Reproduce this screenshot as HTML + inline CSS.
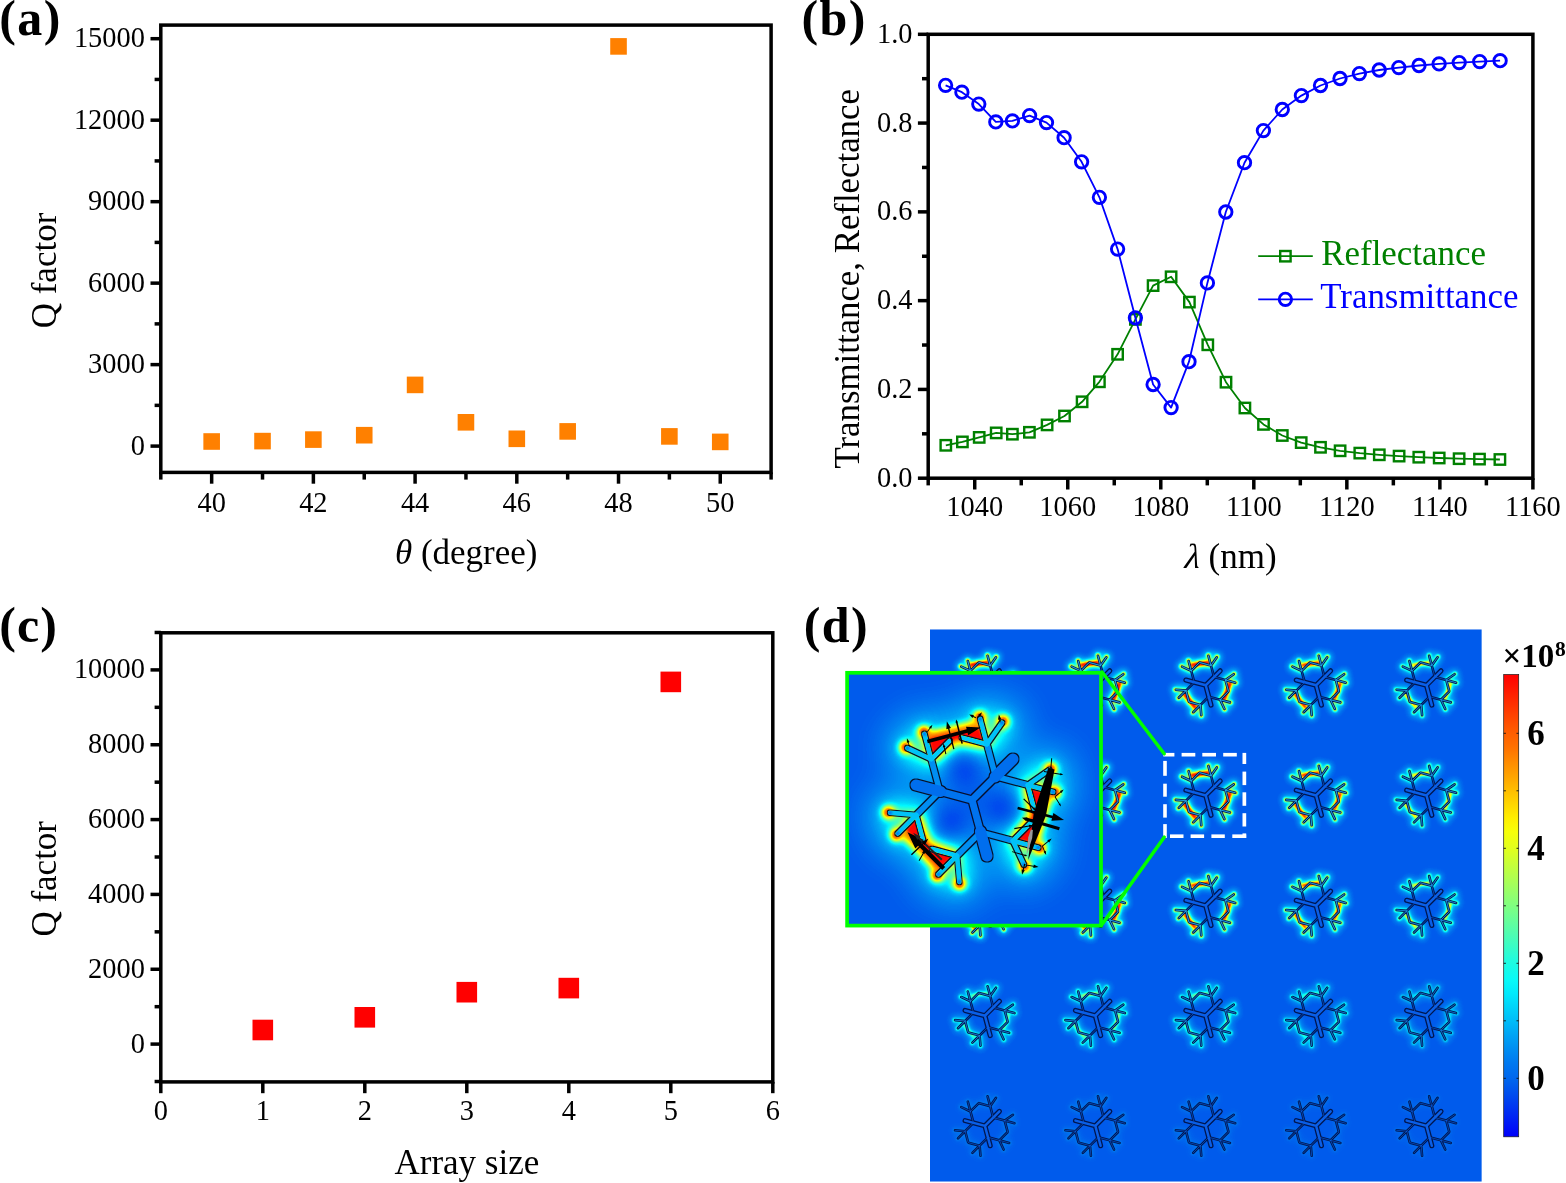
<!DOCTYPE html>
<html lang="en">
<head>
<meta charset="utf-8">
<title>Q factor, transmittance and field distribution</title>
<style>
html, body { margin: 0; padding: 0; background: #fff; }
body { width: 1566px; height: 1183px; overflow: hidden; }
svg { display: block; font-family: "Liberation Serif", serif; }
text { white-space: pre; }
</style>
</head>
<body>
<svg width="1566" height="1183" viewBox="0 0 1566 1183">
<rect x="0" y="0" width="1566" height="1183" fill="#fff"/>
<g id="panel-a">
<rect x="160.8" y="25.1" width="610.3" height="447.3" fill="none" stroke="#000" stroke-width="3.5"/>
<line x1="160.8" y1="472.4" x2="160.8" y2="479.6" stroke="#000" stroke-width="3.5" />
<line x1="211.66" y1="472.4" x2="211.66" y2="483.7" stroke="#000" stroke-width="3.5" />
<text x="211.66" y="512" font-size="28.4" text-anchor="middle" font-weight="normal" font-style="normal" fill="#000" >40</text>
<line x1="262.52" y1="472.4" x2="262.52" y2="479.6" stroke="#000" stroke-width="3.5" />
<line x1="313.38" y1="472.4" x2="313.38" y2="483.7" stroke="#000" stroke-width="3.5" />
<text x="313.38" y="512" font-size="28.4" text-anchor="middle" font-weight="normal" font-style="normal" fill="#000" >42</text>
<line x1="364.23" y1="472.4" x2="364.23" y2="479.6" stroke="#000" stroke-width="3.5" />
<line x1="415.09" y1="472.4" x2="415.09" y2="483.7" stroke="#000" stroke-width="3.5" />
<text x="415.09" y="512" font-size="28.4" text-anchor="middle" font-weight="normal" font-style="normal" fill="#000" >44</text>
<line x1="465.95" y1="472.4" x2="465.95" y2="479.6" stroke="#000" stroke-width="3.5" />
<line x1="516.81" y1="472.4" x2="516.81" y2="483.7" stroke="#000" stroke-width="3.5" />
<text x="516.81" y="512" font-size="28.4" text-anchor="middle" font-weight="normal" font-style="normal" fill="#000" >46</text>
<line x1="567.67" y1="472.4" x2="567.67" y2="479.6" stroke="#000" stroke-width="3.5" />
<line x1="618.52" y1="472.4" x2="618.52" y2="483.7" stroke="#000" stroke-width="3.5" />
<text x="618.52" y="512" font-size="28.4" text-anchor="middle" font-weight="normal" font-style="normal" fill="#000" >48</text>
<line x1="669.38" y1="472.4" x2="669.38" y2="479.6" stroke="#000" stroke-width="3.5" />
<line x1="720.24" y1="472.4" x2="720.24" y2="483.7" stroke="#000" stroke-width="3.5" />
<text x="720.24" y="512" font-size="28.4" text-anchor="middle" font-weight="normal" font-style="normal" fill="#000" >50</text>
<line x1="771.1" y1="472.4" x2="771.1" y2="479.6" stroke="#000" stroke-width="3.5" />
<line x1="150.5" y1="446.1" x2="160.8" y2="446.1" stroke="#000" stroke-width="3.5" />
<text x="144.9" y="454.5" font-size="28.4" text-anchor="end" font-weight="normal" font-style="normal" fill="#000" >0</text>
<line x1="154.6" y1="405.36" x2="160.8" y2="405.36" stroke="#000" stroke-width="3.5" />
<line x1="150.5" y1="364.62" x2="160.8" y2="364.62" stroke="#000" stroke-width="3.5" />
<text x="144.9" y="373.02" font-size="28.4" text-anchor="end" font-weight="normal" font-style="normal" fill="#000" >3000</text>
<line x1="154.6" y1="323.88" x2="160.8" y2="323.88" stroke="#000" stroke-width="3.5" />
<line x1="150.5" y1="283.14" x2="160.8" y2="283.14" stroke="#000" stroke-width="3.5" />
<text x="144.9" y="291.54" font-size="28.4" text-anchor="end" font-weight="normal" font-style="normal" fill="#000" >6000</text>
<line x1="154.6" y1="242.4" x2="160.8" y2="242.4" stroke="#000" stroke-width="3.5" />
<line x1="150.5" y1="201.66" x2="160.8" y2="201.66" stroke="#000" stroke-width="3.5" />
<text x="144.9" y="210.06" font-size="28.4" text-anchor="end" font-weight="normal" font-style="normal" fill="#000" >9000</text>
<line x1="154.6" y1="160.92" x2="160.8" y2="160.92" stroke="#000" stroke-width="3.5" />
<line x1="150.5" y1="120.18" x2="160.8" y2="120.18" stroke="#000" stroke-width="3.5" />
<text x="144.9" y="128.58" font-size="28.4" text-anchor="end" font-weight="normal" font-style="normal" fill="#000" >12000</text>
<line x1="154.6" y1="79.44" x2="160.8" y2="79.44" stroke="#000" stroke-width="3.5" />
<line x1="150.5" y1="38.7" x2="160.8" y2="38.7" stroke="#000" stroke-width="3.5" />
<text x="144.9" y="47.1" font-size="28.4" text-anchor="end" font-weight="normal" font-style="normal" fill="#000" >15000</text>
<rect x="203.36" y="433.2" width="16.6" height="16.6" fill="#ff8000"/>
<rect x="254.22" y="432.8" width="16.6" height="16.6" fill="#ff8000"/>
<rect x="305.07" y="431.3" width="16.6" height="16.6" fill="#ff8000"/>
<rect x="355.93" y="426.9" width="16.6" height="16.6" fill="#ff8000"/>
<rect x="406.79" y="376.6" width="16.6" height="16.6" fill="#ff8000"/>
<rect x="457.65" y="414" width="16.6" height="16.6" fill="#ff8000"/>
<rect x="508.51" y="430.5" width="16.6" height="16.6" fill="#ff8000"/>
<rect x="559.37" y="423.1" width="16.6" height="16.6" fill="#ff8000"/>
<rect x="610.23" y="38.1" width="16.6" height="16.6" fill="#ff8000"/>
<rect x="661.08" y="428.1" width="16.6" height="16.6" fill="#ff8000"/>
<rect x="711.94" y="433.6" width="16.6" height="16.6" fill="#ff8000"/>
<text x="-0.7" y="35.3" font-size="50" text-anchor="start" font-weight="bold" font-style="normal" fill="#000" letter-spacing="1.4">(a)</text>
<text transform="translate(56.3,270.5) rotate(-90)" font-size="35" text-anchor="middle">Q factor</text>
<text x="466.2" y="563.8" font-size="35" text-anchor="middle"><tspan font-style="italic">θ</tspan> (degree)</text>
</g>
<g id="panel-b">
<rect x="928.2" y="34.3" width="604.7" height="443.9" fill="none" stroke="#000" stroke-width="3.5"/>
<line x1="928.2" y1="478.2" x2="928.2" y2="485.4" stroke="#000" stroke-width="3.5" />
<line x1="974.72" y1="478.2" x2="974.72" y2="489.5" stroke="#000" stroke-width="3.5" />
<text x="974.72" y="516.3" font-size="28.4" text-anchor="middle" font-weight="normal" font-style="normal" fill="#000" >1040</text>
<line x1="1021.23" y1="478.2" x2="1021.23" y2="485.4" stroke="#000" stroke-width="3.5" />
<line x1="1067.75" y1="478.2" x2="1067.75" y2="489.5" stroke="#000" stroke-width="3.5" />
<text x="1067.75" y="516.3" font-size="28.4" text-anchor="middle" font-weight="normal" font-style="normal" fill="#000" >1060</text>
<line x1="1114.26" y1="478.2" x2="1114.26" y2="485.4" stroke="#000" stroke-width="3.5" />
<line x1="1160.78" y1="478.2" x2="1160.78" y2="489.5" stroke="#000" stroke-width="3.5" />
<text x="1160.78" y="516.3" font-size="28.4" text-anchor="middle" font-weight="normal" font-style="normal" fill="#000" >1080</text>
<line x1="1207.29" y1="478.2" x2="1207.29" y2="485.4" stroke="#000" stroke-width="3.5" />
<line x1="1253.81" y1="478.2" x2="1253.81" y2="489.5" stroke="#000" stroke-width="3.5" />
<text x="1253.81" y="516.3" font-size="28.4" text-anchor="middle" font-weight="normal" font-style="normal" fill="#000" >1100</text>
<line x1="1300.32" y1="478.2" x2="1300.32" y2="485.4" stroke="#000" stroke-width="3.5" />
<line x1="1346.84" y1="478.2" x2="1346.84" y2="489.5" stroke="#000" stroke-width="3.5" />
<text x="1346.84" y="516.3" font-size="28.4" text-anchor="middle" font-weight="normal" font-style="normal" fill="#000" >1120</text>
<line x1="1393.35" y1="478.2" x2="1393.35" y2="485.4" stroke="#000" stroke-width="3.5" />
<line x1="1439.87" y1="478.2" x2="1439.87" y2="489.5" stroke="#000" stroke-width="3.5" />
<text x="1439.87" y="516.3" font-size="28.4" text-anchor="middle" font-weight="normal" font-style="normal" fill="#000" >1140</text>
<line x1="1486.38" y1="478.2" x2="1486.38" y2="485.4" stroke="#000" stroke-width="3.5" />
<line x1="1532.9" y1="478.2" x2="1532.9" y2="489.5" stroke="#000" stroke-width="3.5" />
<text x="1532.9" y="516.3" font-size="28.4" text-anchor="middle" font-weight="normal" font-style="normal" fill="#000" >1160</text>
<line x1="917.9" y1="478.2" x2="928.2" y2="478.2" stroke="#000" stroke-width="3.5" />
<text x="912.5" y="486.7" font-size="28.4" text-anchor="end" font-weight="normal" font-style="normal" fill="#000" >0.0</text>
<line x1="922" y1="433.81" x2="928.2" y2="433.81" stroke="#000" stroke-width="3.5" />
<line x1="917.9" y1="389.42" x2="928.2" y2="389.42" stroke="#000" stroke-width="3.5" />
<text x="912.5" y="397.92" font-size="28.4" text-anchor="end" font-weight="normal" font-style="normal" fill="#000" >0.2</text>
<line x1="922" y1="345.03" x2="928.2" y2="345.03" stroke="#000" stroke-width="3.5" />
<line x1="917.9" y1="300.64" x2="928.2" y2="300.64" stroke="#000" stroke-width="3.5" />
<text x="912.5" y="309.14" font-size="28.4" text-anchor="end" font-weight="normal" font-style="normal" fill="#000" >0.4</text>
<line x1="922" y1="256.25" x2="928.2" y2="256.25" stroke="#000" stroke-width="3.5" />
<line x1="917.9" y1="211.86" x2="928.2" y2="211.86" stroke="#000" stroke-width="3.5" />
<text x="912.5" y="220.36" font-size="28.4" text-anchor="end" font-weight="normal" font-style="normal" fill="#000" >0.6</text>
<line x1="922" y1="167.47" x2="928.2" y2="167.47" stroke="#000" stroke-width="3.5" />
<line x1="917.9" y1="123.08" x2="928.2" y2="123.08" stroke="#000" stroke-width="3.5" />
<text x="912.5" y="131.58" font-size="28.4" text-anchor="end" font-weight="normal" font-style="normal" fill="#000" >0.8</text>
<line x1="922" y1="78.69" x2="928.2" y2="78.69" stroke="#000" stroke-width="3.5" />
<line x1="917.9" y1="34.3" x2="928.2" y2="34.3" stroke="#000" stroke-width="3.5" />
<text x="912.5" y="42.8" font-size="28.4" text-anchor="end" font-weight="normal" font-style="normal" fill="#000" >1.0</text>
<polyline points="945.8,445.3 962.4,441.9 979.2,437.4 996.2,432.9 1012.4,434.2 1029.4,432.3 1047.1,424.9 1064.5,416 1082.1,401.8 1099.4,381.8 1117.6,354.3 1135.4,319.4 1153.1,285.6 1171.1,276.8 1189.4,302.1 1207.8,344.8 1226,382.2 1244.9,408 1263.5,424.4 1282.3,435.5 1301.2,442.6 1320.5,447.3 1340.1,450.8 1359.8,453.1 1379.3,454.8 1399.1,456.1 1418.8,457.2 1439.2,458 1459.1,458.7 1479.5,459.1 1499.9,459.5" fill="none" stroke="#008000" stroke-width="1.8" stroke-linejoin="round"/>
<rect x="940.6" y="440.1" width="10.4" height="10.4" fill="none" stroke="#008000" stroke-width="2.4"/>
<rect x="957.2" y="436.7" width="10.4" height="10.4" fill="none" stroke="#008000" stroke-width="2.4"/>
<rect x="974" y="432.2" width="10.4" height="10.4" fill="none" stroke="#008000" stroke-width="2.4"/>
<rect x="991" y="427.7" width="10.4" height="10.4" fill="none" stroke="#008000" stroke-width="2.4"/>
<rect x="1007.2" y="429" width="10.4" height="10.4" fill="none" stroke="#008000" stroke-width="2.4"/>
<rect x="1024.2" y="427.1" width="10.4" height="10.4" fill="none" stroke="#008000" stroke-width="2.4"/>
<rect x="1041.9" y="419.7" width="10.4" height="10.4" fill="none" stroke="#008000" stroke-width="2.4"/>
<rect x="1059.3" y="410.8" width="10.4" height="10.4" fill="none" stroke="#008000" stroke-width="2.4"/>
<rect x="1076.9" y="396.6" width="10.4" height="10.4" fill="none" stroke="#008000" stroke-width="2.4"/>
<rect x="1094.2" y="376.6" width="10.4" height="10.4" fill="none" stroke="#008000" stroke-width="2.4"/>
<rect x="1112.4" y="349.1" width="10.4" height="10.4" fill="none" stroke="#008000" stroke-width="2.4"/>
<rect x="1130.2" y="314.2" width="10.4" height="10.4" fill="none" stroke="#008000" stroke-width="2.4"/>
<rect x="1147.9" y="280.4" width="10.4" height="10.4" fill="none" stroke="#008000" stroke-width="2.4"/>
<rect x="1165.9" y="271.6" width="10.4" height="10.4" fill="none" stroke="#008000" stroke-width="2.4"/>
<rect x="1184.2" y="296.9" width="10.4" height="10.4" fill="none" stroke="#008000" stroke-width="2.4"/>
<rect x="1202.6" y="339.6" width="10.4" height="10.4" fill="none" stroke="#008000" stroke-width="2.4"/>
<rect x="1220.8" y="377" width="10.4" height="10.4" fill="none" stroke="#008000" stroke-width="2.4"/>
<rect x="1239.7" y="402.8" width="10.4" height="10.4" fill="none" stroke="#008000" stroke-width="2.4"/>
<rect x="1258.3" y="419.2" width="10.4" height="10.4" fill="none" stroke="#008000" stroke-width="2.4"/>
<rect x="1277.1" y="430.3" width="10.4" height="10.4" fill="none" stroke="#008000" stroke-width="2.4"/>
<rect x="1296" y="437.4" width="10.4" height="10.4" fill="none" stroke="#008000" stroke-width="2.4"/>
<rect x="1315.3" y="442.1" width="10.4" height="10.4" fill="none" stroke="#008000" stroke-width="2.4"/>
<rect x="1334.9" y="445.6" width="10.4" height="10.4" fill="none" stroke="#008000" stroke-width="2.4"/>
<rect x="1354.6" y="447.9" width="10.4" height="10.4" fill="none" stroke="#008000" stroke-width="2.4"/>
<rect x="1374.1" y="449.6" width="10.4" height="10.4" fill="none" stroke="#008000" stroke-width="2.4"/>
<rect x="1393.9" y="450.9" width="10.4" height="10.4" fill="none" stroke="#008000" stroke-width="2.4"/>
<rect x="1413.6" y="452" width="10.4" height="10.4" fill="none" stroke="#008000" stroke-width="2.4"/>
<rect x="1434" y="452.8" width="10.4" height="10.4" fill="none" stroke="#008000" stroke-width="2.4"/>
<rect x="1453.9" y="453.5" width="10.4" height="10.4" fill="none" stroke="#008000" stroke-width="2.4"/>
<rect x="1474.3" y="453.9" width="10.4" height="10.4" fill="none" stroke="#008000" stroke-width="2.4"/>
<rect x="1494.7" y="454.3" width="10.4" height="10.4" fill="none" stroke="#008000" stroke-width="2.4"/>
<polyline points="945.6,85.3 961.9,92.2 978.8,104.1 995.8,121.9 1012.4,120.9 1029.6,115.6 1046.5,122.6 1064.1,137.7 1081.6,161.8 1099.4,197.3 1117.6,249.1 1135.4,317.8 1153.1,384.5 1171.1,407.6 1189,361.7 1207.4,282.9 1225.8,212 1244.5,162.7 1263.4,130.6 1282.3,109.5 1301.4,95.6 1320.5,85.5 1340,78.5 1359.4,73.6 1379.2,70 1398.8,67.6 1419,65.5 1439.1,63.9 1459.2,62.6 1479.7,61.6 1500.1,60.7" fill="none" stroke="#0000ff" stroke-width="1.8" stroke-linejoin="round"/>
<circle cx="945.6" cy="85.3" r="6.2" fill="none" stroke="#0000ff" stroke-width="2.9"/>
<circle cx="961.9" cy="92.2" r="6.2" fill="none" stroke="#0000ff" stroke-width="2.9"/>
<circle cx="978.8" cy="104.1" r="6.2" fill="none" stroke="#0000ff" stroke-width="2.9"/>
<circle cx="995.8" cy="121.9" r="6.2" fill="none" stroke="#0000ff" stroke-width="2.9"/>
<circle cx="1012.4" cy="120.9" r="6.2" fill="none" stroke="#0000ff" stroke-width="2.9"/>
<circle cx="1029.6" cy="115.6" r="6.2" fill="none" stroke="#0000ff" stroke-width="2.9"/>
<circle cx="1046.5" cy="122.6" r="6.2" fill="none" stroke="#0000ff" stroke-width="2.9"/>
<circle cx="1064.1" cy="137.7" r="6.2" fill="none" stroke="#0000ff" stroke-width="2.9"/>
<circle cx="1081.6" cy="161.8" r="6.2" fill="none" stroke="#0000ff" stroke-width="2.9"/>
<circle cx="1099.4" cy="197.3" r="6.2" fill="none" stroke="#0000ff" stroke-width="2.9"/>
<circle cx="1117.6" cy="249.1" r="6.2" fill="none" stroke="#0000ff" stroke-width="2.9"/>
<circle cx="1135.4" cy="317.8" r="6.2" fill="none" stroke="#0000ff" stroke-width="2.9"/>
<circle cx="1153.1" cy="384.5" r="6.2" fill="none" stroke="#0000ff" stroke-width="2.9"/>
<circle cx="1171.1" cy="407.6" r="6.2" fill="none" stroke="#0000ff" stroke-width="2.9"/>
<circle cx="1189" cy="361.7" r="6.2" fill="none" stroke="#0000ff" stroke-width="2.9"/>
<circle cx="1207.4" cy="282.9" r="6.2" fill="none" stroke="#0000ff" stroke-width="2.9"/>
<circle cx="1225.8" cy="212" r="6.2" fill="none" stroke="#0000ff" stroke-width="2.9"/>
<circle cx="1244.5" cy="162.7" r="6.2" fill="none" stroke="#0000ff" stroke-width="2.9"/>
<circle cx="1263.4" cy="130.6" r="6.2" fill="none" stroke="#0000ff" stroke-width="2.9"/>
<circle cx="1282.3" cy="109.5" r="6.2" fill="none" stroke="#0000ff" stroke-width="2.9"/>
<circle cx="1301.4" cy="95.6" r="6.2" fill="none" stroke="#0000ff" stroke-width="2.9"/>
<circle cx="1320.5" cy="85.5" r="6.2" fill="none" stroke="#0000ff" stroke-width="2.9"/>
<circle cx="1340" cy="78.5" r="6.2" fill="none" stroke="#0000ff" stroke-width="2.9"/>
<circle cx="1359.4" cy="73.6" r="6.2" fill="none" stroke="#0000ff" stroke-width="2.9"/>
<circle cx="1379.2" cy="70" r="6.2" fill="none" stroke="#0000ff" stroke-width="2.9"/>
<circle cx="1398.8" cy="67.6" r="6.2" fill="none" stroke="#0000ff" stroke-width="2.9"/>
<circle cx="1419" cy="65.5" r="6.2" fill="none" stroke="#0000ff" stroke-width="2.9"/>
<circle cx="1439.1" cy="63.9" r="6.2" fill="none" stroke="#0000ff" stroke-width="2.9"/>
<circle cx="1459.2" cy="62.6" r="6.2" fill="none" stroke="#0000ff" stroke-width="2.9"/>
<circle cx="1479.7" cy="61.6" r="6.2" fill="none" stroke="#0000ff" stroke-width="2.9"/>
<circle cx="1500.1" cy="60.7" r="6.2" fill="none" stroke="#0000ff" stroke-width="2.9"/>
<line x1="1258.2" y1="256.2" x2="1312.8" y2="256.2" stroke="#008000" stroke-width="1.8" />
<rect x="1280.2" y="251" width="10.4" height="10.4" fill="none" stroke="#008000" stroke-width="2.4"/>
<text x="1321.3" y="265.3" font-size="34.9" text-anchor="start" font-weight="normal" font-style="normal" fill="#008000" >Reflectance</text>
<line x1="1258.2" y1="299.3" x2="1312.8" y2="299.3" stroke="#0000ff" stroke-width="1.8" />
<circle cx="1285.4" cy="299.3" r="6.2" fill="none" stroke="#0000ff" stroke-width="2.9"/>
<text x="1320.2" y="308" font-size="34.9" text-anchor="start" font-weight="normal" font-style="normal" fill="#0000ff" >Transmittance</text>
<text x="801.4" y="35.3" font-size="50" text-anchor="start" font-weight="bold" font-style="normal" fill="#000" letter-spacing="1.4">(b)</text>
<text transform="translate(858.7,278.8) rotate(-90)" font-size="34.8" text-anchor="middle">Transmittance, Reflectance</text>
<text transform="translate(1184.2,567.7) skewX(-6)" font-size="35" font-style="italic">λ</text>
<text x="1208.6" y="567.7" font-size="35">(nm)</text>
</g>
<g id="panel-c">
<rect x="160.8" y="632.8" width="612" height="449.1" fill="none" stroke="#000" stroke-width="3.5"/>
<line x1="160.8" y1="1081.9" x2="160.8" y2="1093.2" stroke="#000" stroke-width="3.5" />
<text x="160.8" y="1119.6" font-size="28.4" text-anchor="middle" font-weight="normal" font-style="normal" fill="#000" >0</text>
<line x1="262.8" y1="1081.9" x2="262.8" y2="1093.2" stroke="#000" stroke-width="3.5" />
<text x="262.8" y="1119.6" font-size="28.4" text-anchor="middle" font-weight="normal" font-style="normal" fill="#000" >1</text>
<line x1="364.8" y1="1081.9" x2="364.8" y2="1093.2" stroke="#000" stroke-width="3.5" />
<text x="364.8" y="1119.6" font-size="28.4" text-anchor="middle" font-weight="normal" font-style="normal" fill="#000" >2</text>
<line x1="466.8" y1="1081.9" x2="466.8" y2="1093.2" stroke="#000" stroke-width="3.5" />
<text x="466.8" y="1119.6" font-size="28.4" text-anchor="middle" font-weight="normal" font-style="normal" fill="#000" >3</text>
<line x1="568.8" y1="1081.9" x2="568.8" y2="1093.2" stroke="#000" stroke-width="3.5" />
<text x="568.8" y="1119.6" font-size="28.4" text-anchor="middle" font-weight="normal" font-style="normal" fill="#000" >4</text>
<line x1="670.8" y1="1081.9" x2="670.8" y2="1093.2" stroke="#000" stroke-width="3.5" />
<text x="670.8" y="1119.6" font-size="28.4" text-anchor="middle" font-weight="normal" font-style="normal" fill="#000" >5</text>
<line x1="772.8" y1="1081.9" x2="772.8" y2="1093.2" stroke="#000" stroke-width="3.5" />
<text x="772.8" y="1119.6" font-size="28.4" text-anchor="middle" font-weight="normal" font-style="normal" fill="#000" >6</text>
<line x1="154.6" y1="1081.52" x2="160.8" y2="1081.52" stroke="#000" stroke-width="3.5" />
<line x1="150.5" y1="1044.1" x2="160.8" y2="1044.1" stroke="#000" stroke-width="3.5" />
<text x="144.9" y="1052.5" font-size="28.4" text-anchor="end" font-weight="normal" font-style="normal" fill="#000" >0</text>
<line x1="154.6" y1="1006.68" x2="160.8" y2="1006.68" stroke="#000" stroke-width="3.5" />
<line x1="150.5" y1="969.26" x2="160.8" y2="969.26" stroke="#000" stroke-width="3.5" />
<text x="144.9" y="977.66" font-size="28.4" text-anchor="end" font-weight="normal" font-style="normal" fill="#000" >2000</text>
<line x1="154.6" y1="931.84" x2="160.8" y2="931.84" stroke="#000" stroke-width="3.5" />
<line x1="150.5" y1="894.42" x2="160.8" y2="894.42" stroke="#000" stroke-width="3.5" />
<text x="144.9" y="902.82" font-size="28.4" text-anchor="end" font-weight="normal" font-style="normal" fill="#000" >4000</text>
<line x1="154.6" y1="857" x2="160.8" y2="857" stroke="#000" stroke-width="3.5" />
<line x1="150.5" y1="819.58" x2="160.8" y2="819.58" stroke="#000" stroke-width="3.5" />
<text x="144.9" y="827.98" font-size="28.4" text-anchor="end" font-weight="normal" font-style="normal" fill="#000" >6000</text>
<line x1="154.6" y1="782.16" x2="160.8" y2="782.16" stroke="#000" stroke-width="3.5" />
<line x1="150.5" y1="744.74" x2="160.8" y2="744.74" stroke="#000" stroke-width="3.5" />
<text x="144.9" y="753.14" font-size="28.4" text-anchor="end" font-weight="normal" font-style="normal" fill="#000" >8000</text>
<line x1="154.6" y1="707.32" x2="160.8" y2="707.32" stroke="#000" stroke-width="3.5" />
<line x1="150.5" y1="669.9" x2="160.8" y2="669.9" stroke="#000" stroke-width="3.5" />
<text x="144.9" y="678.3" font-size="28.4" text-anchor="end" font-weight="normal" font-style="normal" fill="#000" >10000</text>
<line x1="154.6" y1="632.48" x2="160.8" y2="632.48" stroke="#000" stroke-width="3.5" />
<rect x="252.5" y="1019.7" width="20.6" height="20.6" fill="#ff0000"/>
<rect x="354.5" y="1007" width="20.6" height="20.6" fill="#ff0000"/>
<rect x="456.5" y="981.9" width="20.6" height="20.6" fill="#ff0000"/>
<rect x="558.5" y="977.8" width="20.6" height="20.6" fill="#ff0000"/>
<rect x="660.5" y="671.6" width="20.6" height="20.6" fill="#ff0000"/>
<text x="-0.7" y="641.6" font-size="50" text-anchor="start" font-weight="bold" font-style="normal" fill="#000" letter-spacing="1.0">(c)</text>
<text transform="translate(55.6,878.8) rotate(-90)" font-size="35" text-anchor="middle">Q factor</text>
<text x="466.9" y="1174.1" font-size="35" text-anchor="middle" font-weight="normal" font-style="normal" fill="#000" >Array size</text>
</g>
<g id="panel-d">
<text x="803.7" y="642.2" font-size="50" text-anchor="start" font-weight="bold" font-style="normal" fill="#000" letter-spacing="1.4">(d)</text>
<defs>
<filter id="jet" x="0" y="0" width="100%" height="100%" filterUnits="objectBoundingBox" color-interpolation-filters="sRGB"><feComponentTransfer><feFuncR type="table" tableValues="0.000 0.000 0.000 0.000 0.000 0.000 0.000 0.000 0.000 0.000 0.000 0.000 0.000 0.000 0.000 0.000 0.000 0.000 0.000 0.000 0.000 0.000 0.000 0.000 0.000 0.000 0.000 0.000 0.000 0.000 0.000 0.000 0.000 0.000 0.000 0.000 0.000 0.000 0.000 0.000 0.000 0.000 0.008 0.032 0.056 0.080 0.104 0.129 0.153 0.177 0.201 0.225 0.249 0.273 0.297 0.321 0.345 0.369 0.394 0.418 0.442 0.466 0.490 0.514 0.538 0.562 0.586 0.610 0.633 0.657 0.681 0.705 0.729 0.753 0.777 0.801 0.825 0.849 0.873 0.896 0.920 0.944 0.968 0.992 1.000 1.000 1.000 1.000 1.000 1.000 1.000 1.000 1.000 1.000 1.000 1.000 1.000 1.000 1.000 1.000 1.000 1.000 1.000 1.000 1.000 1.000 1.000 1.000 1.000 1.000 1.000 1.000 1.000 1.000 1.000 1.000 1.000 1.000 1.000 1.000 1.000 1.000 1.000 1.000 1.000 1.000"/><feFuncG type="table" tableValues="0.000 0.025 0.050 0.076 0.101 0.126 0.151 0.176 0.202 0.227 0.252 0.277 0.303 0.328 0.353 0.375 0.397 0.418 0.440 0.462 0.484 0.505 0.527 0.549 0.571 0.593 0.614 0.636 0.659 0.682 0.706 0.729 0.753 0.776 0.800 0.824 0.847 0.871 0.894 0.918 0.941 0.965 0.981 0.982 0.983 0.984 0.984 0.985 0.986 0.987 0.988 0.989 0.990 0.991 0.992 0.993 0.994 0.995 0.996 0.997 0.998 0.999 1.000 1.000 1.000 1.000 1.000 1.000 1.000 1.000 1.000 1.000 1.000 1.000 1.000 1.000 1.000 1.000 1.000 1.000 1.000 1.000 1.000 1.000 0.983 0.959 0.934 0.909 0.884 0.859 0.834 0.810 0.785 0.760 0.735 0.710 0.685 0.660 0.636 0.611 0.586 0.561 0.536 0.511 0.486 0.462 0.437 0.412 0.387 0.362 0.339 0.316 0.294 0.271 0.248 0.226 0.203 0.181 0.158 0.136 0.113 0.090 0.068 0.045 0.023 0.000"/><feFuncB type="table" tableValues="0.980 0.976 0.973 0.969 0.965 0.961 0.957 0.953 0.949 0.945 0.941 0.937 0.933 0.929 0.925 0.928 0.931 0.933 0.936 0.939 0.941 0.944 0.946 0.949 0.952 0.954 0.957 0.959 0.962 0.965 0.968 0.970 0.973 0.976 0.979 0.982 0.984 0.987 0.990 0.993 0.995 0.998 0.992 0.968 0.944 0.920 0.896 0.873 0.849 0.825 0.801 0.777 0.753 0.729 0.705 0.681 0.657 0.633 0.610 0.586 0.562 0.538 0.514 0.490 0.466 0.442 0.418 0.394 0.369 0.345 0.321 0.297 0.273 0.249 0.225 0.201 0.177 0.153 0.129 0.104 0.080 0.056 0.032 0.008 0.000 0.000 0.000 0.000 0.000 0.000 0.000 0.000 0.000 0.000 0.000 0.000 0.000 0.000 0.000 0.000 0.000 0.000 0.000 0.000 0.000 0.000 0.000 0.000 0.000 0.000 0.000 0.000 0.000 0.000 0.000 0.000 0.000 0.000 0.000 0.000 0.000 0.000 0.000 0.000 0.000 0.000"/></feComponentTransfer></filter>
<filter id="ring" x="-10%" y="-10%" width="120%" height="120%" color-interpolation-filters="sRGB"><feMorphology in="SourceAlpha" operator="dilate" radius="0.55" result="d"/><feComposite in="d" in2="SourceAlpha" operator="out" result="r"/><feFlood flood-color="#06102c" flood-opacity="1"/><feComposite in2="r" operator="in"/><feGaussianBlur stdDeviation="0.3"/></filter>
<filter id="soft" x="-50%" y="-50%" width="200%" height="200%" color-interpolation-filters="sRGB"><feGaussianBlur stdDeviation="0.35"/></filter>
<filter id="bl08" x="-50%" y="-50%" width="200%" height="200%" color-interpolation-filters="sRGB"><feGaussianBlur stdDeviation="0.8"/></filter>
<filter id="bl1" x="-50%" y="-50%" width="200%" height="200%" color-interpolation-filters="sRGB"><feGaussianBlur stdDeviation="1.2"/></filter>
<filter id="bl2" x="-50%" y="-50%" width="200%" height="200%" color-interpolation-filters="sRGB"><feGaussianBlur stdDeviation="2.0"/></filter>
<filter id="bl3" x="-50%" y="-50%" width="200%" height="200%" color-interpolation-filters="sRGB"><feGaussianBlur stdDeviation="3.2"/></filter>
<filter id="bl5" x="-50%" y="-50%" width="200%" height="200%" color-interpolation-filters="sRGB"><feGaussianBlur stdDeviation="5"/></filter>
<filter id="bl8" x="-50%" y="-50%" width="200%" height="200%" color-interpolation-filters="sRGB"><feGaussianBlur stdDeviation="8"/></filter>
<filter id="bl12" x="-50%" y="-50%" width="200%" height="200%" color-interpolation-filters="sRGB"><feGaussianBlur stdDeviation="12"/></filter>
<filter id="bl18" x="-50%" y="-50%" width="200%" height="200%" color-interpolation-filters="sRGB"><feGaussianBlur stdDeviation="18"/></filter>
<g id="sfHalo" fill="none" stroke="#fff" stroke-linecap="round"><path d="M5.29,-19.74L-5.77,-22.7M-14.45,-14.45L-6.36,-22.55M14.45,14.45L22.55,6.36M19.74,-5.29L22.7,5.77M-19.74,5.29L-16.78,16.35M-5.29,19.74L-16.35,16.78M5.29,-19.74L2.66,-29.54M5.29,-19.74L11.11,-28.05M-14.45,-14.45L-17.08,-24.25M-14.45,-14.45L-23.65,-18.74M14.45,14.45L24.25,17.08M14.45,14.45L18.74,23.65M19.74,-5.29L29.54,-2.66M19.74,-5.29L28.05,-11.11M-19.74,5.29L-26.92,12.47M-19.74,5.29L-29.85,4.41M-5.29,19.74L-12.47,26.92M-5.29,19.74L-4.41,29.85" stroke-width="9" opacity="0.26" filter="url(#bl3)"/><path d="M5.29,-19.74L-5.77,-22.7M-14.45,-14.45L-6.36,-22.55M14.45,14.45L22.55,6.36M19.74,-5.29L22.7,5.77M-19.74,5.29L-16.78,16.35M-5.29,19.74L-16.35,16.78M5.29,-19.74L2.66,-29.54M5.29,-19.74L11.11,-28.05M-14.45,-14.45L-17.08,-24.25M-14.45,-14.45L-23.65,-18.74M14.45,14.45L24.25,17.08M14.45,14.45L18.74,23.65M19.74,-5.29L29.54,-2.66M19.74,-5.29L28.05,-11.11M-19.74,5.29L-26.92,12.47M-19.74,5.29L-29.85,4.41M-5.29,19.74L-12.47,26.92M-5.29,19.74L-4.41,29.85" stroke-width="4.6" opacity="0.32" filter="url(#bl1)"/></g>
<path id="sfHotA" d="M-13.46,-20.21L2.01,-22.51M24.23,-1.55L18.49,13M-10.77,21.76L-20.5,9.52" fill="none" stroke="#fff" stroke-linecap="round" opacity="0.6" filter="url(#bl2)"/>
<path id="sfHotB" d="M-13.46,-20.21L2.01,-22.51M24.23,-1.55L18.49,13M-10.77,21.76L-20.5,9.52" fill="none" stroke="#fff" stroke-linecap="round" filter="url(#bl08)"/>
<g id="sfTips" fill="#fff" filter="url(#bl08)"><circle cx="2.43" cy="-30.41" r="1.7"/><circle cx="11.63" cy="-28.79" r="1.7"/><circle cx="-17.31" cy="-25.12" r="1.7"/><circle cx="-24.46" cy="-19.12" r="1.7"/><circle cx="25.12" cy="17.31" r="1.7"/><circle cx="19.12" cy="24.46" r="1.7"/><circle cx="30.41" cy="-2.43" r="1.7"/><circle cx="28.79" cy="-11.63" r="1.7"/><circle cx="-27.55" cy="13.1" r="1.7"/><circle cx="-30.75" cy="4.33" r="1.7"/><circle cx="-13.1" cy="27.55" r="1.7"/><circle cx="-4.33" cy="30.75" r="1.7"/></g>
<g id="sfLine" fill="none" stroke-linecap="round" stroke-linejoin="round" filter="url(#soft)"><path d="M0,0L14.52,-14.52M0,0L5.31,19.83M0,0L-19.83,-5.31" stroke="#001750" stroke-width="5.1"/><path d="M8.34,-8.34L5.29,-19.74M-11.4,-3.05L-14.45,-14.45M3.05,11.4L14.45,14.45M8.34,-8.34L19.74,-5.29M-11.4,-3.05L-19.74,5.29M3.05,11.4L-5.29,19.74M5.29,-19.74L-5.77,-22.7M-14.45,-14.45L-6.36,-22.55M14.45,14.45L22.55,6.36M19.74,-5.29L22.7,5.77M-19.74,5.29L-16.78,16.35M-5.29,19.74L-16.35,16.78M5.29,-19.74L2.66,-29.54M5.29,-19.74L11.11,-28.05M-14.45,-14.45L-17.08,-24.25M-14.45,-14.45L-23.65,-18.74M14.45,14.45L24.25,17.08M14.45,14.45L18.74,23.65M19.74,-5.29L29.54,-2.66M19.74,-5.29L28.05,-11.11M-19.74,5.29L-26.92,12.47M-19.74,5.29L-29.85,4.41M-5.29,19.74L-12.47,26.92M-5.29,19.74L-4.41,29.85" stroke="#001750" stroke-width="2.6"/><path d="M0,0L14.52,-14.52M0,0L5.31,19.83M0,0L-19.83,-5.31" stroke="#0a5fe8" stroke-width="2.5"/><path d="M8.34,-8.34L5.29,-19.74M-11.4,-3.05L-14.45,-14.45M3.05,11.4L14.45,14.45M8.34,-8.34L19.74,-5.29M-11.4,-3.05L-19.74,5.29M3.05,11.4L-5.29,19.74M5.29,-19.74L-5.77,-22.7M-14.45,-14.45L-6.36,-22.55M14.45,14.45L22.55,6.36M19.74,-5.29L22.7,5.77M-19.74,5.29L-16.78,16.35M-5.29,19.74L-16.35,16.78M5.29,-19.74L2.66,-29.54M5.29,-19.74L11.11,-28.05M-14.45,-14.45L-17.08,-24.25M-14.45,-14.45L-23.65,-18.74M14.45,14.45L24.25,17.08M14.45,14.45L18.74,23.65M19.74,-5.29L29.54,-2.66M19.74,-5.29L28.05,-11.11M-19.74,5.29L-26.92,12.47M-19.74,5.29L-29.85,4.41M-5.29,19.74L-12.47,26.92M-5.29,19.74L-4.41,29.85" stroke="#0a5ce0" stroke-width="0.9" opacity="0.7"/></g>
<path id="sfCore" d="M5.29,-19.74L-5.77,-22.7M-14.45,-14.45L-6.36,-22.55M14.45,14.45L22.55,6.36M19.74,-5.29L22.7,5.77M-19.74,5.29L-16.78,16.35M-5.29,19.74L-16.35,16.78M5.29,-19.74L2.66,-29.54M5.29,-19.74L11.11,-28.05M-14.45,-14.45L-17.08,-24.25M-14.45,-14.45L-23.65,-18.74M14.45,14.45L24.25,17.08M14.45,14.45L18.74,23.65M19.74,-5.29L29.54,-2.66M19.74,-5.29L28.05,-11.11M-19.74,5.29L-26.92,12.47M-19.74,5.29L-29.85,4.41M-5.29,19.74L-12.47,26.92M-5.29,19.74L-4.41,29.85" fill="none" stroke="#30d0f0" stroke-width="0.9" stroke-linecap="round" filter="url(#soft)"/>
<clipPath id="hmclip"><rect x="930" y="629.3" width="551.8" height="552.4"/></clipPath>
</defs>
<g clip-path="url(#hmclip)">
<g filter="url(#jet)">
<rect x="930.0" y="629.3" width="551.8" height="552.4" fill="rgb(29,29,29)"/>
<g transform="translate(984.9,685.3)"><use href="#sfHalo" opacity="1"/><use href="#sfHotA" stroke-width="5" opacity="1"/><use href="#sfHotB" stroke-width="3.6" opacity="1"/><use href="#sfTips" opacity="0.68"/></g>
<g transform="translate(1095.3,685.3)"><use href="#sfHalo" opacity="1"/><use href="#sfHotA" stroke-width="5" opacity="1"/><use href="#sfHotB" stroke-width="3.6" opacity="1"/><use href="#sfTips" opacity="0.68"/></g>
<g transform="translate(1205.7,685.3)"><use href="#sfHalo" opacity="1"/><use href="#sfHotA" stroke-width="5" opacity="1"/><use href="#sfHotB" stroke-width="3.6" opacity="1"/><use href="#sfTips" opacity="0.68"/></g>
<g transform="translate(1316.1,685.3)"><use href="#sfHalo" opacity="0.9"/><use href="#sfHotA" stroke-width="4.27" opacity="0.88"/><use href="#sfHotB" stroke-width="2.86" opacity="1"/><use href="#sfTips" opacity="0.58"/></g>
<g transform="translate(1426.5,685.3)"><use href="#sfHalo" opacity="0.7"/><use href="#sfHotA" stroke-width="2.93" opacity="0.65"/><use href="#sfHotB" stroke-width="1.64" opacity="0.95"/><use href="#sfTips" opacity="0.4"/></g>
<g transform="translate(984.9,795.45)"><use href="#sfHalo" opacity="1"/><use href="#sfHotA" stroke-width="5" opacity="1"/><use href="#sfHotB" stroke-width="3.6" opacity="1"/><use href="#sfTips" opacity="0.68"/></g>
<g transform="translate(1095.3,795.45)"><use href="#sfHalo" opacity="1"/><use href="#sfHotA" stroke-width="5" opacity="1"/><use href="#sfHotB" stroke-width="3.6" opacity="1"/><use href="#sfTips" opacity="0.68"/></g>
<g transform="translate(1205.7,795.45)"><use href="#sfHalo" opacity="1"/><use href="#sfHotA" stroke-width="5" opacity="1"/><use href="#sfHotB" stroke-width="3.6" opacity="1"/><use href="#sfTips" opacity="0.68"/></g>
<g transform="translate(1316.1,795.45)"><use href="#sfHalo" opacity="0.9"/><use href="#sfHotA" stroke-width="4.27" opacity="0.88"/><use href="#sfHotB" stroke-width="2.86" opacity="1"/><use href="#sfTips" opacity="0.58"/></g>
<g transform="translate(1426.5,795.45)"><use href="#sfHalo" opacity="0.68"/><use href="#sfHotA" stroke-width="2.8" opacity="0.63"/><use href="#sfHotB" stroke-width="1.54" opacity="0.93"/><use href="#sfTips" opacity="0.38"/></g>
<g transform="translate(984.9,905.6)"><use href="#sfHalo" opacity="0.95"/><use href="#sfHotA" stroke-width="4.63" opacity="0.94"/><use href="#sfHotB" stroke-width="3.22" opacity="1"/><use href="#sfTips" opacity="0.63"/></g>
<g transform="translate(1095.3,905.6)"><use href="#sfHalo" opacity="0.95"/><use href="#sfHotA" stroke-width="4.63" opacity="0.94"/><use href="#sfHotB" stroke-width="3.22" opacity="1"/><use href="#sfTips" opacity="0.63"/></g>
<g transform="translate(1205.7,905.6)"><use href="#sfHalo" opacity="0.92"/><use href="#sfHotA" stroke-width="4.41" opacity="0.9"/><use href="#sfHotB" stroke-width="3" opacity="1"/><use href="#sfTips" opacity="0.6"/></g>
<g transform="translate(1316.1,905.6)"><use href="#sfHalo" opacity="0.85"/><use href="#sfHotA" stroke-width="3.92" opacity="0.82"/><use href="#sfHotB" stroke-width="2.52" opacity="1"/><use href="#sfTips" opacity="0.53"/></g>
<g transform="translate(1426.5,905.6)"><use href="#sfHalo" opacity="0.64"/><use href="#sfHotA" stroke-width="2.56" opacity="0.59"/><use href="#sfHotB" stroke-width="1.35" opacity="0.89"/><use href="#sfTips" opacity="0.35"/></g>
<g transform="translate(984.9,1015.75)"><use href="#sfHalo" opacity="0.5"/><use href="#sfHotA" stroke-width="1.77" opacity="0.44"/><use href="#sfHotB" stroke-width="0.78" opacity="0.75"/><use href="#sfTips" opacity="0.24"/></g>
<g transform="translate(1095.3,1015.75)"><use href="#sfHalo" opacity="0.55"/><use href="#sfHotA" stroke-width="2.04" opacity="0.49"/><use href="#sfHotB" stroke-width="0.97" opacity="0.8"/><use href="#sfTips" opacity="0.28"/></g>
<g transform="translate(1205.7,1015.75)"><use href="#sfHalo" opacity="0.5"/><use href="#sfHotA" stroke-width="1.77" opacity="0.44"/><use href="#sfHotB" stroke-width="0.78" opacity="0.75"/><use href="#sfTips" opacity="0.24"/></g>
<g transform="translate(1316.1,1015.75)"><use href="#sfHalo" opacity="0.45"/><use href="#sfHotA" stroke-width="1.51" opacity="0.38"/><use href="#sfHotB" stroke-width="0.62" opacity="0.7"/><use href="#sfTips" opacity="0.21"/></g>
<g transform="translate(1426.5,1015.75)"><use href="#sfHalo" opacity="0.35"/><use href="#sfHotA" stroke-width="1.04" opacity="0.28"/><use href="#sfHotB" stroke-width="0.36" opacity="0.6"/><use href="#sfTips" opacity="0.14"/></g>
<g transform="translate(984.9,1125.9)"><use href="#sfHalo" opacity="0.1"/><use href="#sfHotA" stroke-width="0.16" opacity="0.06"/><use href="#sfHotB" stroke-width="0.02" opacity="0.35"/><use href="#sfTips" opacity="0.02"/></g>
<g transform="translate(1095.3,1125.9)"><use href="#sfHalo" opacity="0.1"/><use href="#sfHotA" stroke-width="0.16" opacity="0.06"/><use href="#sfHotB" stroke-width="0.02" opacity="0.35"/><use href="#sfTips" opacity="0.02"/></g>
<g transform="translate(1205.7,1125.9)"><use href="#sfHalo" opacity="0.09"/><use href="#sfHotA" stroke-width="0.14" opacity="0.06"/><use href="#sfHotB" stroke-width="0.02" opacity="0.34"/><use href="#sfTips" opacity="0.02"/></g>
<g transform="translate(1316.1,1125.9)"><use href="#sfHalo" opacity="0.07"/><use href="#sfHotA" stroke-width="0.09" opacity="0.04"/><use href="#sfHotB" stroke-width="0.01" opacity="0.32"/><use href="#sfTips" opacity="0.01"/></g>
<g transform="translate(1426.5,1125.9)"><use href="#sfHalo" opacity="0.05"/><use href="#sfHotA" stroke-width="0.06" opacity="0.03"/><use href="#sfHotB" stroke-width="0" opacity="0.3"/><use href="#sfTips" opacity="0.01"/></g>
</g>
<use href="#sfLine" x="984.9" y="685.3"/>
<use href="#sfCore" x="984.9" y="685.3" opacity="0.75"/>
<use href="#sfLine" x="1095.3" y="685.3"/>
<use href="#sfCore" x="1095.3" y="685.3" opacity="0.75"/>
<use href="#sfLine" x="1205.7" y="685.3"/>
<use href="#sfCore" x="1205.7" y="685.3" opacity="0.75"/>
<use href="#sfLine" x="1316.1" y="685.3"/>
<use href="#sfCore" x="1316.1" y="685.3" opacity="0.68"/>
<use href="#sfLine" x="1426.5" y="685.3"/>
<use href="#sfCore" x="1426.5" y="685.3" opacity="0.52"/>
<use href="#sfLine" x="984.9" y="795.45"/>
<use href="#sfCore" x="984.9" y="795.45" opacity="0.75"/>
<use href="#sfLine" x="1095.3" y="795.45"/>
<use href="#sfCore" x="1095.3" y="795.45" opacity="0.75"/>
<use href="#sfLine" x="1205.7" y="795.45"/>
<use href="#sfCore" x="1205.7" y="795.45" opacity="0.75"/>
<use href="#sfLine" x="1316.1" y="795.45"/>
<use href="#sfCore" x="1316.1" y="795.45" opacity="0.68"/>
<use href="#sfLine" x="1426.5" y="795.45"/>
<use href="#sfCore" x="1426.5" y="795.45" opacity="0.51"/>
<use href="#sfLine" x="984.9" y="905.6"/>
<use href="#sfCore" x="984.9" y="905.6" opacity="0.71"/>
<use href="#sfLine" x="1095.3" y="905.6"/>
<use href="#sfCore" x="1095.3" y="905.6" opacity="0.71"/>
<use href="#sfLine" x="1205.7" y="905.6"/>
<use href="#sfCore" x="1205.7" y="905.6" opacity="0.69"/>
<use href="#sfLine" x="1316.1" y="905.6"/>
<use href="#sfCore" x="1316.1" y="905.6" opacity="0.64"/>
<use href="#sfLine" x="1426.5" y="905.6"/>
<use href="#sfCore" x="1426.5" y="905.6" opacity="0.48"/>
<use href="#sfLine" x="984.9" y="1015.75"/>
<use href="#sfCore" x="984.9" y="1015.75" opacity="0.38"/>
<use href="#sfLine" x="1095.3" y="1015.75"/>
<use href="#sfCore" x="1095.3" y="1015.75" opacity="0.41"/>
<use href="#sfLine" x="1205.7" y="1015.75"/>
<use href="#sfCore" x="1205.7" y="1015.75" opacity="0.38"/>
<use href="#sfLine" x="1316.1" y="1015.75"/>
<use href="#sfCore" x="1316.1" y="1015.75" opacity="0.34"/>
<use href="#sfLine" x="1426.5" y="1015.75"/>
<use href="#sfCore" x="1426.5" y="1015.75" opacity="0.26"/>
<use href="#sfLine" x="984.9" y="1125.9"/>
<use href="#sfLine" x="1095.3" y="1125.9"/>
<use href="#sfLine" x="1205.7" y="1125.9"/>
<use href="#sfLine" x="1316.1" y="1125.9"/>
<use href="#sfLine" x="1426.5" y="1125.9"/>
</g>
<rect x="1163.3" y="752.9" width="11.1" height="3.6" fill="#ffffff"/>
<rect x="1181.6" y="752.9" width="13.7" height="3.6" fill="#ffffff"/>
<rect x="1202.3" y="752.9" width="13.7" height="3.6" fill="#ffffff"/>
<rect x="1223.2" y="752.9" width="13.6" height="3.6" fill="#ffffff"/>
<rect x="1242.5" y="752.9" width="3.7" height="11.1" fill="#ffffff"/>
<rect x="1242.5" y="771.6" width="3.7" height="13.5" fill="#ffffff"/>
<rect x="1242.5" y="792.3" width="3.7" height="13.5" fill="#ffffff"/>
<rect x="1242.5" y="813.2" width="3.7" height="13.3" fill="#ffffff"/>
<rect x="1242.5" y="833.4" width="3.7" height="4.6" fill="#ffffff"/>
<rect x="1170" y="834.4" width="13.5" height="3.6" fill="#ffffff"/>
<rect x="1190.6" y="834.4" width="13.5" height="3.6" fill="#ffffff"/>
<rect x="1211.4" y="834.4" width="13.4" height="3.6" fill="#ffffff"/>
<rect x="1232.3" y="834.4" width="13.9" height="3.6" fill="#ffffff"/>
<rect x="1163.2" y="760.9" width="3.6" height="14.9" fill="#ffffff"/>
<rect x="1163.2" y="783.7" width="3.6" height="13" fill="#ffffff"/>
<rect x="1163.2" y="804.2" width="3.6" height="13.4" fill="#ffffff"/>
<rect x="1163.2" y="824.1" width="3.6" height="13.9" fill="#ffffff"/>
<rect x="847.1" y="672.8" width="253.9" height="252.8" fill="#005aec"/>
<clipPath id="inclip"><rect x="847.1" y="672.8" width="253.9" height="252.8"/></clipPath>
<g clip-path="url(#inclip)">
<g filter="url(#jet)">
<rect x="845.1" y="670.8" width="257.9" height="256.8" fill="rgb(29,29,29)"/>
<g transform="translate(972.0,800.0)" fill="none" stroke="#fff" stroke-linecap="round" stroke-linejoin="round">
<path d="M14.93,-55.71L-10.16,-62.43M-40.78,-40.78L-22.42,-59.15M40.78,40.78L59.15,22.42M55.71,-14.93L62.43,10.16M-55.71,14.93L-48.99,40.02M-14.93,55.71L-40.02,48.99M14.93,-55.71L8.12,-81.12M14.93,-55.71L30.02,-77.26M-40.78,-40.78L-47.59,-66.19M-40.78,-40.78L-64.63,-51.9M40.78,40.78L66.19,47.59M40.78,40.78L51.9,64.63M55.71,-14.93L81.12,-8.12M55.71,-14.93L77.26,-30.02M-55.71,14.93L-74.31,33.53M-55.71,14.93L-81.92,12.64M-14.93,55.71L-33.53,74.31M-14.93,55.71L-12.64,81.92" stroke-width="40" opacity="0.2" filter="url(#bl18)"/>
<path d="M14.93,-55.71L-10.16,-62.43M-40.78,-40.78L-22.42,-59.15M40.78,40.78L59.15,22.42M55.71,-14.93L62.43,10.16M-55.71,14.93L-48.99,40.02M-14.93,55.71L-40.02,48.99M14.93,-55.71L8.12,-81.12M14.93,-55.71L30.02,-77.26M-40.78,-40.78L-47.59,-66.19M-40.78,-40.78L-64.63,-51.9M40.78,40.78L66.19,47.59M40.78,40.78L51.9,64.63M55.71,-14.93L81.12,-8.12M55.71,-14.93L77.26,-30.02M-55.71,14.93L-74.31,33.53M-55.71,14.93L-81.92,12.64M-14.93,55.71L-33.53,74.31M-14.93,55.71L-12.64,81.92" stroke-width="20" opacity="0.17" filter="url(#bl8)"/>
<path d="M14.93,-55.71L-10.16,-62.43M-40.78,-40.78L-22.42,-59.15M40.78,40.78L59.15,22.42M55.71,-14.93L62.43,10.16M-55.71,14.93L-48.99,40.02M-14.93,55.71L-40.02,48.99M14.93,-55.71L8.12,-81.12M14.93,-55.71L30.02,-77.26M-40.78,-40.78L-47.59,-66.19M-40.78,-40.78L-64.63,-51.9M40.78,40.78L66.19,47.59M40.78,40.78L51.9,64.63M55.71,-14.93L81.12,-8.12M55.71,-14.93L77.26,-30.02M-55.71,14.93L-74.31,33.53M-55.71,14.93L-81.92,12.64M-14.93,55.71L-33.53,74.31M-14.93,55.71L-12.64,81.92" stroke-width="11" opacity="0.16" filter="url(#bl3)"/>
<circle cx="-8.62" cy="-32.17" r="17" fill="#000" stroke="none" opacity="0.5" filter="url(#bl8)"/>
<circle cx="32.17" cy="8.62" r="17" fill="#000" stroke="none" opacity="0.5" filter="url(#bl8)"/>
<circle cx="-23.55" cy="23.55" r="17" fill="#000" stroke="none" opacity="0.5" filter="url(#bl8)"/>
<g fill="#fff" stroke="#fff" stroke-width="12" opacity="0.45" filter="url(#bl5)"><polygon points="-38.63,-44.33 -42.59,-61.05 7.1,-71.4 11.29,-57.7 -16.46,-61.43"/><polygon points="57.7,-11.29 74.17,-6.36 58.29,41.85 44.33,38.63 61.43,16.46"/><polygon points="-19.07,55.62 -31.58,67.41 -65.39,29.55 -55.62,19.07 -44.97,44.97"/></g>
<g fill="#fff" stroke="#fff" stroke-width="5" opacity="0.65" filter="url(#bl3)"><polygon points="-38.63,-44.33 -42.59,-61.05 7.1,-71.4 11.29,-57.7 -16.46,-61.43"/><polygon points="57.7,-11.29 74.17,-6.36 58.29,41.85 44.33,38.63 61.43,16.46"/><polygon points="-19.07,55.62 -31.58,67.41 -65.39,29.55 -55.62,19.07 -44.97,44.97"/></g>
<g fill="#fff" stroke="none" opacity="0.95" filter="url(#bl1)"><polygon points="-38.63,-44.33 -42.59,-61.05 7.1,-71.4 11.29,-57.7 -16.46,-61.43"/><polygon points="57.7,-11.29 74.17,-6.36 58.29,41.85 44.33,38.63 61.43,16.46"/><polygon points="-19.07,55.62 -31.58,67.41 -65.39,29.55 -55.62,19.07 -44.97,44.97"/></g>
<path d="M-38.47,-63.82L1.41,-74.5M74.5,-1.41L63.82,38.47M-36.03,65.23L-65.23,36.03" stroke-width="9" opacity="0.5" filter="url(#bl3)"/>
<g fill="#fff" stroke="none" opacity="0.62" filter="url(#bl3)"><circle cx="7.73" cy="-82.57" r="7.0"/><circle cx="30.88" cy="-78.49" r="7.0"/><circle cx="-47.98" cy="-67.64" r="7.0"/><circle cx="-65.99" cy="-52.54" r="7.0"/><circle cx="67.64" cy="47.98" r="7.0"/><circle cx="52.54" cy="65.99" r="7.0"/><circle cx="82.57" cy="-7.73" r="7.0"/><circle cx="78.49" cy="-30.88" r="7.0"/><circle cx="-75.37" cy="34.59" r="7.0"/><circle cx="-83.41" cy="12.5" r="7.0"/><circle cx="-34.59" cy="75.37" r="7.0"/><circle cx="-12.5" cy="83.41" r="7.0"/></g>
<g fill="#fff" stroke="none" opacity="0.85" filter="url(#bl2)"><circle cx="7.55" cy="-83.25" r="3.9"/><circle cx="31.28" cy="-79.06" r="3.9"/><circle cx="-48.16" cy="-68.32" r="3.9"/><circle cx="-66.62" cy="-52.83" r="3.9"/><circle cx="68.32" cy="48.16" r="3.9"/><circle cx="52.83" cy="66.62" r="3.9"/><circle cx="83.25" cy="-7.55" r="3.9"/><circle cx="79.06" cy="-31.28" r="3.9"/><circle cx="-75.87" cy="35.09" r="3.9"/><circle cx="-84.11" cy="12.44" r="3.9"/><circle cx="-35.09" cy="75.87" r="3.9"/><circle cx="-12.44" cy="84.11" r="3.9"/></g>
<path d="M23.55,-23.55L14.93,-55.71M-32.17,-8.62L-40.78,-40.78M8.62,32.17L40.78,40.78M23.55,-23.55L55.71,-14.93M-32.17,-8.62L-55.71,14.93M8.62,32.17L-14.93,55.71" stroke="rgb(48,48,48)" stroke-width="5.6"/>
<path d="M14.93,-55.71L-10.16,-62.43M-40.78,-40.78L-22.42,-59.15M40.78,40.78L59.15,22.42M55.71,-14.93L62.43,10.16M-55.71,14.93L-48.99,40.02M-14.93,55.71L-40.02,48.99" stroke="rgb(69,69,69)" stroke-width="4.5"/>
<path d="M14.93,-55.71L8.12,-81.12M14.93,-55.71L30.02,-77.26M-40.78,-40.78L-47.59,-66.19M-40.78,-40.78L-64.63,-51.9M40.78,40.78L66.19,47.59M40.78,40.78L51.9,64.63M55.71,-14.93L81.12,-8.12M55.71,-14.93L77.26,-30.02M-55.71,14.93L-74.31,33.53M-55.71,14.93L-81.92,12.64M-14.93,55.71L-33.53,74.31M-14.93,55.71L-12.64,81.92" stroke="rgb(66,66,66)" stroke-width="4.5"/>
<path d="M0,0L23.55,-23.55M0,0L8.62,32.17M0,0L-32.17,-8.62" stroke="rgb(38,38,38)" stroke-width="7.0"/>
<path d="M23.08,-23.08L40.97,-40.97M8.45,31.52L15,55.97M-31.52,-8.45L-55.97,-15" stroke="rgb(36,36,36)" stroke-width="11.0"/>
<g fill="rgb(33,33,33)" stroke="none" opacity="0.9" filter="url(#bl08)"><circle cx="8.12" cy="-81.12" r="1.9"/><circle cx="30.02" cy="-77.26" r="1.9"/><circle cx="-47.59" cy="-66.19" r="1.9"/><circle cx="-64.63" cy="-51.9" r="1.9"/><circle cx="66.19" cy="47.59" r="1.9"/><circle cx="51.9" cy="64.63" r="1.9"/><circle cx="81.12" cy="-8.12" r="1.9"/><circle cx="77.26" cy="-30.02" r="1.9"/><circle cx="-74.31" cy="33.53" r="1.9"/><circle cx="-81.92" cy="12.64" r="1.9"/><circle cx="-33.53" cy="74.31" r="1.9"/><circle cx="-12.64" cy="81.92" r="1.9"/></g>
</g>
</g>
<g transform="translate(972.0,800.0)" fill="none" stroke="#000" stroke-linecap="round" stroke-linejoin="round" filter="url(#ring)">
<path d="M23.08,-23.08L40.97,-40.97M8.45,31.52L15,55.97M-31.52,-8.45L-55.97,-15" stroke-width="11.0"/>
<path d="M0,0L23.55,-23.55M0,0L8.62,32.17M0,0L-32.17,-8.62" stroke-width="7.0"/>
<path d="M23.55,-23.55L14.93,-55.71M-32.17,-8.62L-40.78,-40.78M8.62,32.17L40.78,40.78M23.55,-23.55L55.71,-14.93M-32.17,-8.62L-55.71,14.93M8.62,32.17L-14.93,55.71" stroke-width="5.6"/>
<path d="M14.93,-55.71L-10.16,-62.43M-40.78,-40.78L-22.42,-59.15M40.78,40.78L59.15,22.42M55.71,-14.93L62.43,10.16M-55.71,14.93L-48.99,40.02M-14.93,55.71L-40.02,48.99M14.93,-55.71L8.12,-81.12M14.93,-55.71L30.02,-77.26M-40.78,-40.78L-47.59,-66.19M-40.78,-40.78L-64.63,-51.9M40.78,40.78L66.19,47.59M40.78,40.78L51.9,64.63M55.71,-14.93L81.12,-8.12M55.71,-14.93L77.26,-30.02M-55.71,14.93L-74.31,33.53M-55.71,14.93L-81.92,12.64M-14.93,55.71L-33.53,74.31M-14.93,55.71L-12.64,81.92" stroke-width="4.5"/>
</g>
<g id="arrows" filter="url(#soft)">
<polygon points="927.8,743.14 967.58,732.76 968.21,735.17 980.67,727.48 966.04,726.85 966.67,729.27 926.9,739.66" fill="#000"/>
<polygon points="954.48,748.9 949.3,728.4 950.99,727.97 946.83,721.28 946.34,729.14 948.03,728.71 953.22,749.22" fill="#000"/>
<polygon points="962.88,743.45 957.55,722.29 958.08,722.15 956.09,719.56 955.56,722.79 956.09,722.65 961.42,743.82" fill="#000"/>
<polygon points="946.36,754.06 944.72,747.09 945.5,746.91 943.31,743.31 942.96,747.51 943.74,747.32 945.38,754.28" fill="#000"/>
<polygon points="977.51,718.69 979.51,716.15 980.42,716.87 981.95,712.34 977.9,714.88 978.81,715.6 976.81,718.13" fill="#000"/>
<polygon points="976.07,717.37 973.43,716.11 973.93,715.07 969.18,714.58 972.55,717.96 973.05,716.92 975.69,718.18" fill="#000"/>
<polygon points="1000.59,722.17 1000.14,719.44 1001.37,719.23 998.87,714.58 998.01,719.79 999.25,719.58 999.7,722.32" fill="#000"/>
<polygon points="927.67,732.06 930.43,728.27 931.16,728.8 932.46,724.8 929.05,727.27 929.78,727.8 927.03,731.58" fill="#000"/>
<polygon points="909.85,746.39 908.62,742.39 909.58,742.09 906.92,738.21 906.9,742.92 907.86,742.62 909.09,746.62" fill="#000"/>
<polygon points="1048.44,767.87 1033.76,812.74 1028.15,859.92 1045.87,815.83 1054.5,769.42" fill="#000"/>
<polygon points="1051.19,758.16 1049.79,774.96 1049.29,774.92 1050.04,777.99 1051.28,775.09 1050.79,775.04 1052.19,758.24" fill="#000"/>
<polygon points="1030.91,829.48 1028.29,837.19 1026.39,856.07 1032.2,838.01 1032.87,829.88" fill="#9a9a9a"/>
<polygon points="1017.27,809.16 1052.07,818.23 1051.38,820.85 1064.01,820 1053.4,813.11 1052.72,815.72 1017.92,806.65" fill="#000"/>
<polygon points="1059.84,827.27 1027.24,817.68 1027.38,817.2 1021.99,817.8 1026.2,821.23 1026.34,820.75 1058.93,830.34" fill="#000"/>
<polygon points="1014.4,829.17 1029.16,826.57 1029.26,827.16 1032.99,825.28 1028.84,824.79 1028.95,825.39 1014.19,827.99" fill="#000"/>
<polygon points="1023.23,799.32 1032.99,808.65 1032.57,809.09 1036.29,810.98 1034.23,807.35 1033.82,807.79 1024.06,798.45" fill="#000"/>
<polygon points="1043.91,771.89 1060.19,774.68 1060.09,775.27 1063.24,774.69 1060.46,773.1 1060.36,773.69 1044.07,770.9" fill="#000"/>
<polygon points="1055.27,797.04 1060.96,792.41 1061.5,793.07 1063.79,789.54 1059.86,791.05 1060.4,791.71 1054.7,796.34" fill="#000"/>
<polygon points="1054.6,796.92 1059.09,804.26 1058.62,804.55 1061.04,806.59 1060.32,803.5 1059.86,803.79 1055.37,796.45" fill="#000"/>
<polygon points="1042.63,846.52 1048.5,841.69 1049.17,842.5 1051.69,838.48 1047.26,840.18 1047.93,840.99 1042.05,845.83" fill="#000"/>
<polygon points="1041.93,846.36 1044.17,851.49 1043.4,851.83 1046.19,854.97 1045.78,850.79 1045,851.13 1042.75,846" fill="#000"/>
<polygon points="1025.21,865.37 1033.48,866.74 1033.26,868.03 1038.49,867.07 1033.86,864.47 1033.64,865.76 1025.38,864.38" fill="#000"/>
<polygon points="1024.16,863.63 1022.63,869.77 1021.56,869.51 1021.99,874.77 1024.86,870.33 1023.79,870.06 1025.33,863.92" fill="#000"/>
<polygon points="1011.97,852.11 1024.49,855.68 1024.33,856.21 1027.49,856.07 1024.88,854.29 1024.73,854.82 1012.22,851.24" fill="#000"/>
<polygon points="945.21,866.93 921.04,842.76 923.8,840.01 907.54,832.23 915.32,848.49 918.07,845.73 942.24,869.9" fill="#000"/>
<polygon points="942.55,859.06 919.63,837.49 920.49,836.58 913.12,832.74 917.4,839.86 918.26,838.95 941.18,860.52" fill="#222"/>
<polygon points="911.91,855.23 923.74,843.98 924.81,845.11 928.34,838.65 921.71,841.84 922.78,842.97 910.94,854.21" fill="#000"/>
<polygon points="919.47,860.88 923.75,853.39 924.62,853.88 925.8,848.8 922.02,852.4 922.88,852.89 918.6,860.39" fill="#000"/>
</g>
</g>
<rect x="847.1" y="672.8" width="253.9" height="252.8" fill="none" stroke="#00ff00" stroke-width="3.7"/>
<line x1="1102" y1="672" x2="1164.2" y2="753.8" stroke="#00ff00" stroke-width="3.5" stroke-linecap="round"/>
<line x1="1102" y1="924.6" x2="1164.2" y2="837.2" stroke="#00ff00" stroke-width="3.5" stroke-linecap="round"/>
<defs><linearGradient id="cbar" x1="0" y1="1" x2="0" y2="0">
<stop offset="0" stop-color="rgb(0,0,250)"/>
<stop offset="0.03" stop-color="rgb(0,25,246)"/>
<stop offset="0.06" stop-color="rgb(0,50,242)"/>
<stop offset="0.09" stop-color="rgb(0,75,238)"/>
<stop offset="0.12" stop-color="rgb(0,99,237)"/>
<stop offset="0.16" stop-color="rgb(0,121,240)"/>
<stop offset="0.19" stop-color="rgb(0,142,242)"/>
<stop offset="0.22" stop-color="rgb(0,164,245)"/>
<stop offset="0.25" stop-color="rgb(0,188,248)"/>
<stop offset="0.28" stop-color="rgb(0,211,250)"/>
<stop offset="0.31" stop-color="rgb(0,234,253)"/>
<stop offset="0.34" stop-color="rgb(8,250,247)"/>
<stop offset="0.38" stop-color="rgb(32,251,223)"/>
<stop offset="0.41" stop-color="rgb(56,252,199)"/>
<stop offset="0.44" stop-color="rgb(80,253,176)"/>
<stop offset="0.47" stop-color="rgb(104,254,152)"/>
<stop offset="0.5" stop-color="rgb(128,255,128)"/>
<stop offset="0.53" stop-color="rgb(152,255,104)"/>
<stop offset="0.56" stop-color="rgb(176,255,80)"/>
<stop offset="0.59" stop-color="rgb(199,255,56)"/>
<stop offset="0.62" stop-color="rgb(223,255,32)"/>
<stop offset="0.66" stop-color="rgb(247,255,8)"/>
<stop offset="0.69" stop-color="rgb(255,238,0)"/>
<stop offset="0.72" stop-color="rgb(255,214,0)"/>
<stop offset="0.75" stop-color="rgb(255,189,0)"/>
<stop offset="0.78" stop-color="rgb(255,164,0)"/>
<stop offset="0.81" stop-color="rgb(255,140,0)"/>
<stop offset="0.84" stop-color="rgb(255,115,0)"/>
<stop offset="0.88" stop-color="rgb(255,90,0)"/>
<stop offset="0.91" stop-color="rgb(255,68,0)"/>
<stop offset="0.94" stop-color="rgb(255,45,0)"/>
<stop offset="0.97" stop-color="rgb(255,22,0)"/>
<stop offset="1" stop-color="rgb(255,0,0)"/>
</linearGradient></defs>
<rect x="1503.7" y="674.5" width="15" height="462.3" fill="url(#cbar)" stroke="#1a1a1a" stroke-width="0.7"/>
<line x1="1503.7" y1="1078.3" x2="1505.9" y2="1078.3" stroke="#111" stroke-width="0.9" />
<line x1="1516.5" y1="1078.3" x2="1518.7" y2="1078.3" stroke="#111" stroke-width="0.9" />
<text x="1527.3" y="1090.3" font-size="35" text-anchor="start" font-weight="bold" font-style="normal" fill="#000" >0</text>
<line x1="1503.7" y1="1020.8" x2="1505.9" y2="1020.8" stroke="#111" stroke-width="0.9" />
<line x1="1516.5" y1="1020.8" x2="1518.7" y2="1020.8" stroke="#111" stroke-width="0.9" />
<line x1="1503.7" y1="963.3" x2="1505.9" y2="963.3" stroke="#111" stroke-width="0.9" />
<line x1="1516.5" y1="963.3" x2="1518.7" y2="963.3" stroke="#111" stroke-width="0.9" />
<text x="1527.3" y="975.3" font-size="35" text-anchor="start" font-weight="bold" font-style="normal" fill="#000" >2</text>
<line x1="1503.7" y1="905.8" x2="1505.9" y2="905.8" stroke="#111" stroke-width="0.9" />
<line x1="1516.5" y1="905.8" x2="1518.7" y2="905.8" stroke="#111" stroke-width="0.9" />
<line x1="1503.7" y1="848.3" x2="1505.9" y2="848.3" stroke="#111" stroke-width="0.9" />
<line x1="1516.5" y1="848.3" x2="1518.7" y2="848.3" stroke="#111" stroke-width="0.9" />
<text x="1527.3" y="860.3" font-size="35" text-anchor="start" font-weight="bold" font-style="normal" fill="#000" >4</text>
<line x1="1503.7" y1="790.8" x2="1505.9" y2="790.8" stroke="#111" stroke-width="0.9" />
<line x1="1516.5" y1="790.8" x2="1518.7" y2="790.8" stroke="#111" stroke-width="0.9" />
<line x1="1503.7" y1="733.3" x2="1505.9" y2="733.3" stroke="#111" stroke-width="0.9" />
<line x1="1516.5" y1="733.3" x2="1518.7" y2="733.3" stroke="#111" stroke-width="0.9" />
<text x="1527.3" y="745.3" font-size="35" text-anchor="start" font-weight="bold" font-style="normal" fill="#000" >6</text>
<text x="1502.5" y="667.3" font-size="33" font-weight="bold">×10<tspan font-size="21.5" dy="-11.8" dx="0.8">8</tspan></text>
</g>
</svg>
</body>
</html>
